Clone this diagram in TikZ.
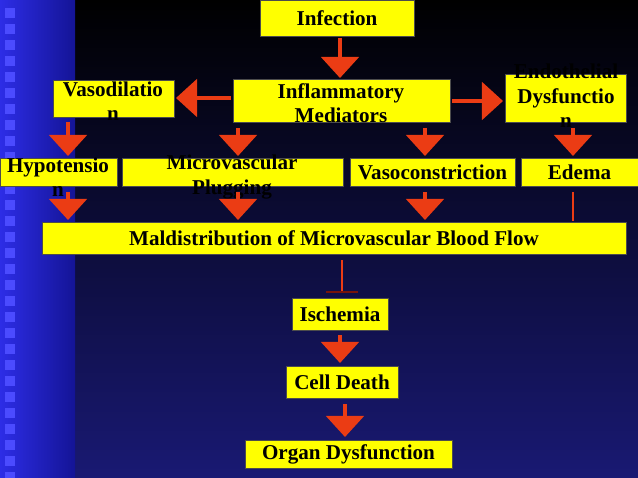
\documentclass[tikz,border=0pt]{standalone}
\usepackage{fontspec}
\setmainfont{Liberation Serif}
\usetikzlibrary{arrows.meta}
\definecolor{boxy}{RGB}{255,255,0}
\definecolor{arr}{RGB}{235,60,20}
\definecolor{arrd}{RGB}{120,20,10}
\definecolor{navy}{RGB}{25,25,115}
\definecolor{stripL}{RGB}{45,45,230}
\definecolor{stripR}{RGB}{20,20,150}
\definecolor{sq}{RGB}{75,75,255}
\begin{document}
\begin{tikzpicture}[x=0.03cm,y=-0.03cm,
  box/.style={draw=black!70,line width=0.8pt,fill=boxy},
  lbl/.style={font=\bfseries\fontsize{18}{21}\selectfont,align=center,inner sep=0},
  arrow/.style={draw=arr,line width=3.2pt,-{Triangle[width=32pt,length=18pt,fill=arr,color=arr]}}]
\useasboundingbox (0,0) rectangle (638,478);
\shade[top color=black,bottom color=navy] (0,0) rectangle (638,478);
\shade[left color=stripL,right color=stripR] (0,0) rectangle (75,478);
\foreach \i in {0,...,29} \fill[sq] (5,{8+\i*16}) rectangle (15,{18+\i*16});
% boxes
\path[box] (260,0) rectangle (414,36) node[pos=.5,lbl] (tinf) {Infection};
\path[box] (53,80) rectangle (174,117);
\node[lbl] (tvas) at (113,101) {Vasodilatio\\n};
\path[box] (233,79) rectangle (450,122);
\node[lbl] (tmed) at (341,103) {Inflammatory\\Mediators};
\path[box] (505,74) rectangle (626,122);
\node[lbl] (tend) at (566,96) {Endothelial\\Dysfunctio\\n};
\path[box] (0,158) rectangle (117,186);
\node[lbl] (thyp) at (58,177) {Hypotensio\\n};
\path[box] (122,158) rectangle (343,186);
\node[lbl] (tmic) at (232,177) {Microvascular\\Plugging};
\path[box] (350,158) rectangle (515,186) node[pos=.5,lbl] (tvc) {Vasoconstriction};
\path[box] (521,158) rectangle (638,186) node[pos=.5,lbl] (ted) {Edema};
\path[box] (42,222) rectangle (626,254) node[pos=.5,lbl] (tmal) {Maldistribution of Microvascular Blood Flow};
\path[box] (292,298) rectangle (388,330) node[pos=.5,lbl] (tisc) {Ischemia};
\path[box] (286,366) rectangle (398,398) node[pos=.5,lbl] (tcd) {Cell Death};
\path[box] (245,440) rectangle (452,468) node[pos=.5,lbl] (torg) {Organ Dysfunction};
% arrows
\foreach \n/\x/\a/\b in {a1/340/38/78, a2/68/122/156, a3/238/128/156, a4/425/128/156, a5/573/128/156,
  a6/68/192/220, a7/238/192/220, a8/425/192/220, a10/340/335/363, a11/345/404/437}{
  \coordinate (\n s) at (\x,\a); \coordinate (\n e) at (\x,\b);
  \draw[arrow] (\n s) -- (\n e);}
\coordinate (h1s) at (231,98); \coordinate (h1e) at (176,98);
\coordinate (h2s) at (452,101); \coordinate (h2e) at (503,101);
\draw[arrow] (h1s) -- (h1e);
\draw[arrow] (h2s) -- (h2e);
\coordinate (e9s) at (573,192); \coordinate (e9e) at (573,221);
\draw[draw=arr,line width=2.5pt] (e9s) -- (e9e);
\coordinate (m9s) at (342,260); \coordinate (m9e) at (342,292);
\draw[draw=arr,line width=2.5pt] (m9s) -- (m9e);
\coordinate (m9l) at (326,292); \coordinate (m9r) at (358,292);
\draw[draw=arrd,line width=1.5pt] (m9l) -- (m9r);
\end{tikzpicture}
\end{document}
